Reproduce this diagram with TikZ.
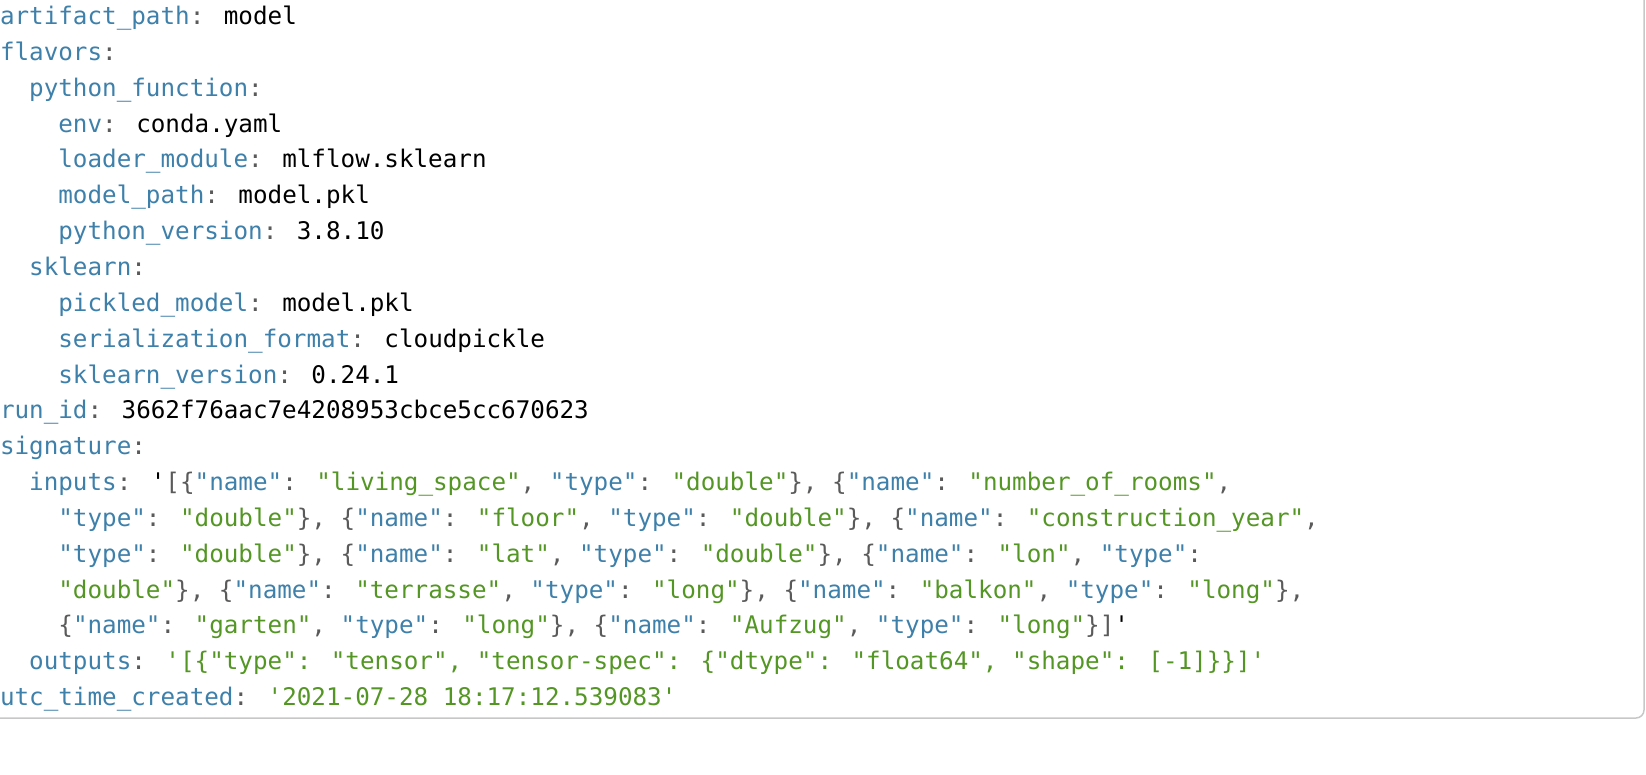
\documentclass[tikz,border=0pt]{standalone}
\usepackage{fontspec}
\newfontfamily\code{DejaVu Sans Mono}
\definecolor{kb}{RGB}{62,128,170}
\definecolor{sg}{RGB}{84,150,36}
\definecolor{pg}{RGB}{90,90,90}
\newcommand\B[1]{\textcolor{kb}{#1}}
\newcommand\G[1]{\textcolor{sg}{#1}}
\newcommand\PP[1]{\textcolor{pg}{#1}}
\newcommand\Ln[3]{\node[ln] (l#1) at ({#2*29.2},{-24.5-35.85*#1}) {#3};}
\tikzset{ln/.style={anchor=base west,inner sep=0pt,outer sep=0pt,font=\code\fontsize{24.25}{29}\selectfont}}
\begin{document}
\begin{tikzpicture}[x=1pt,y=1pt]
\useasboundingbox (0,0) rectangle (1646,-774);
\draw[line width=1.5pt,color=black!22] (1644,0) -- (1644,-710) arc (0:-90:8) -- (0,-718);
\Ln{0}{0}{\B{artifact\_path}\PP{:} model}
\Ln{1}{0}{\B{flavors}\PP{:}}
\Ln{2}{1}{\B{python\_function}\PP{:}}
\Ln{3}{2}{\B{env}\PP{:} conda.yaml}
\Ln{4}{2}{\B{loader\_module}\PP{:} mlflow.sklearn}
\Ln{5}{2}{\B{model\_path}\PP{:} model.pkl}
\Ln{6}{2}{\B{python\_version}\PP{:} 3.8.10}
\Ln{7}{1}{\B{sklearn}\PP{:}}
\Ln{8}{2}{\B{pickled\_model}\PP{:} model.pkl}
\Ln{9}{2}{\B{serialization\_format}\PP{:} cloudpickle}
\Ln{10}{2}{\B{sklearn\_version}\PP{:} 0.24.1}
\Ln{11}{0}{\B{run\_id}\PP{:} 3662f76aac7e4208953cbce5cc670623}
\Ln{12}{0}{\B{signature}\PP{:}}
\Ln{13}{1}{\B{inputs}\PP{:} '\PP{[\{}\B{"name"}\PP{: }\G{"living\_space"}\PP{, }\B{"type"}\PP{: }\G{"double"}\PP{\}, \{}\B{"name"}\PP{: }\G{"number\_of\_rooms"}\PP{,}}
\Ln{14}{2}{\B{"type"}\PP{: }\G{"double"}\PP{\}, \{}\B{"name"}\PP{: }\G{"floor"}\PP{, }\B{"type"}\PP{: }\G{"double"}\PP{\}, \{}\B{"name"}\PP{: }\G{"construction\_year"}\PP{,}}
\Ln{15}{2}{\B{"type"}\PP{: }\G{"double"}\PP{\}, \{}\B{"name"}\PP{: }\G{"lat"}\PP{, }\B{"type"}\PP{: }\G{"double"}\PP{\}, \{}\B{"name"}\PP{: }\G{"lon"}\PP{, }\B{"type"}\PP{:}}
\Ln{16}{2}{\G{"double"}\PP{\}, \{}\B{"name"}\PP{: }\G{"terrasse"}\PP{, }\B{"type"}\PP{: }\G{"long"}\PP{\}, \{}\B{"name"}\PP{: }\G{"balkon"}\PP{, }\B{"type"}\PP{: }\G{"long"}\PP{\},}}
\Ln{17}{2}{\PP{\{}\B{"name"}\PP{: }\G{"garten"}\PP{, }\B{"type"}\PP{: }\G{"long"}\PP{\}, \{}\B{"name"}\PP{: }\G{"Aufzug"}\PP{, }\B{"type"}\PP{: }\G{"long"}\PP{\}]}'}
\Ln{18}{1}{\B{outputs}\PP{:} \G{'[\{"type": "tensor", "tensor-spec": \{"dtype": "float64", "shape": [-1]\}\}]'}}
\Ln{19}{0}{\B{utc\_time\_created}\PP{:} \G{'2021-07-28 18:17:12.539083'}}
\end{tikzpicture}
\end{document}
